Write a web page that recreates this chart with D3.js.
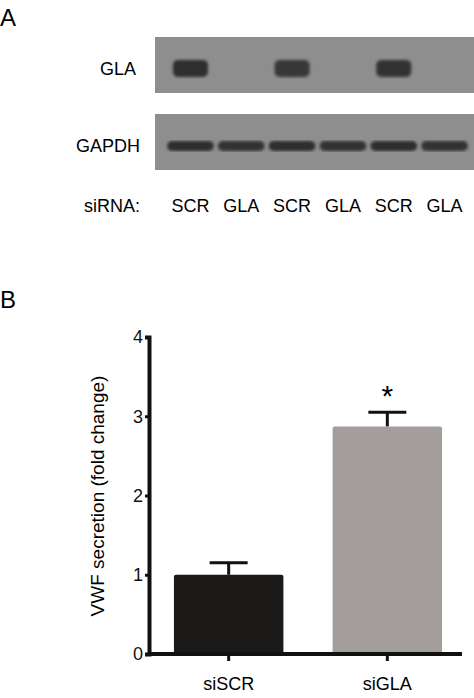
<!DOCTYPE html><html><head><script src="https://cdn.jsdelivr.net/npm/d3@7"></script>
<style>body{margin:0;background:#fff}text{font-family:"Liberation Sans",Arial,sans-serif}</style></head><body>
<script>
const lanes=["SCR","GLA","SCR","GLA","SCR","GLA"];
const glaBand=[1,0,0.9,0,0.95,0];
const gapdhBand=[1,0.95,1,0.95,1,0.95];
const groups=["siSCR","siGLA"];
const means=[1.0,2.87];
const errs=[0.15,0.18];
const yTicks=[0,1,2,3,4];
const colors=["#1c1a18","#a39d9c"];

const svg=d3.select("body").append("svg").attr("width",474).attr("height",698);
const defs=svg.append("defs");
defs.append("filter").attr("id","bl").append("feGaussianBlur").attr("stdDeviation",1.6);
svg.append("text").attr("x",0).attr("y",26).attr("font-size",24).text("A");
svg.append("text").attr("x",0).attr("y",308).attr("font-size",24).text("B");

const lx=d3.scaleBand().domain(d3.range(6)).range([163,472]).padding(0.08);
const rows=[{name:"GLA",y:37,data:glaBand,w:0.75,lx:136},{name:"GAPDH",y:114,data:gapdhBand,w:1,lx:140}];
rows.forEach(r=>{
  svg.append("rect").attr("x",155).attr("y",r.y).attr("width",319).attr("height",56).attr("fill","#8e8e8e");
  svg.append("text").attr("x",r.lx).attr("y",r.y+38).attr("text-anchor","end").attr("font-size",18).text(r.name);
  r.data.forEach((v,i)=>{ if(!v) return;
    const bw=lx.bandwidth()*r.w;
    svg.append("rect").attr("x",lx(i)+(lx.bandwidth()-bw)/2).attr("y",r.y+(r.name=="GLA"?23:27)).attr("width",bw)
      .attr("height",r.name=="GLA"?17:10).attr("rx",5).attr("fill","#2e2e2e").attr("opacity",v).attr("filter","url(#bl)");
  });
});
svg.append("text").attr("x",140).attr("y",212).attr("text-anchor","end").attr("font-size",18).text("siRNA:");
lanes.forEach((l,i)=>svg.append("text").attr("x",lx(i)+lx.bandwidth()/2).attr("y",212).attr("text-anchor","middle").attr("font-size",18).text(l));

const y=d3.scaleLinear().domain([0,4]).range([654,337]);
const x=d3.scaleBand().domain(groups).range([166,450]).paddingInner(0.31).paddingOuter(0.05);
const g=svg.append("g");
groups.forEach((k,i)=>{
  const cx=x(k)+x.bandwidth()/2;
  g.append("line").attr("x1",cx).attr("x2",cx).attr("y1",y(means[i])).attr("y2",y(means[i]+errs[i])).attr("stroke","#111").attr("stroke-width",3);
  g.append("line").attr("x1",cx-19).attr("x2",cx+19).attr("y1",y(means[i]+errs[i])).attr("y2",y(means[i]+errs[i])).attr("stroke","#111").attr("stroke-width",3);
  g.append("rect").attr("x",x(k)).attr("y",y(means[i])).attr("width",x.bandwidth()).attr("height",y(0)-y(means[i])).attr("rx",2).attr("fill",colors[i]);
  g.append("line").attr("x1",cx).attr("x2",cx).attr("y1",y(0)).attr("y2",y(0)+7).attr("stroke","#111").attr("stroke-width",3);
  g.append("text").attr("x",cx).attr("y",690).attr("text-anchor","middle").attr("font-size",18).text(k);
});
svg.append("text").attr("x",x("siGLA")+x.bandwidth()/2).attr("y",y(means[1]+errs[1])-6).attr("text-anchor","middle").attr("font-size",30).text("*");
g.append("line").attr("x1",149).attr("x2",462).attr("y1",y(0)).attr("y2",y(0)).attr("stroke","#111").attr("stroke-width",4);
const ax=svg.append("g").attr("transform","translate(149,0)").call(d3.axisLeft(y).tickValues(yTicks).tickFormat(d3.format("d")).tickSize(4).tickPadding(2));
ax.attr("font-size",18).attr("font-family","Liberation Sans, Arial");
ax.select(".domain").attr("stroke","#111").attr("stroke-width",4);
ax.selectAll(".tick line").attr("stroke","#111").attr("stroke-width",3);
ax.selectAll(".tick text").attr("fill","#111");
svg.append("text").attr("transform","translate(104,496) rotate(-90)").attr("text-anchor","middle").attr("font-size",19).text("VWF secretion (fold change)");
</script></body></html>
